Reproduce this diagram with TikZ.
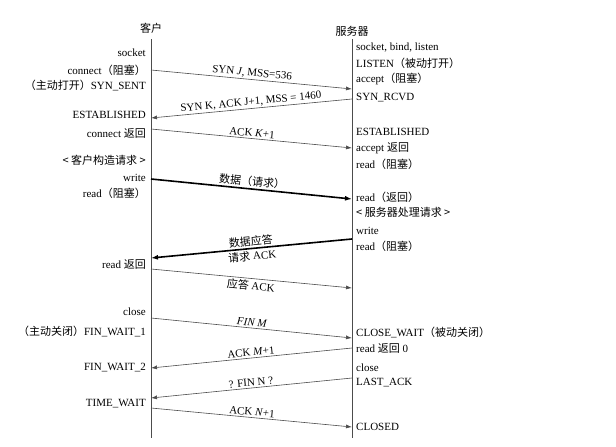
\documentclass[tikz,border=0pt]{standalone}
\usepackage{fontspec}
\setmainfont{Liberation Serif}
\newfontfamily\cjk{Noto Sans CJK SC}
\newcommand{\zh}[1]{{\cjk #1}}
\usetikzlibrary{arrows.meta}
\begin{document}
\begin{tikzpicture}[x=1pt,y=-1pt,font=\fontsize{11}{12}\selectfont,
  lt/.style={anchor=east,inner sep=1pt},
  rt/.style={anchor=west,inner sep=1pt},
  msg/.style={draw=black!70,line width=0.6pt,-{Latex[length=6pt,width=4pt]}},
  bold/.style={draw=black,line width=1.6pt,-{Latex[length=7pt,width=5pt]}},
  lab/.style={sloped,midway,above,inner sep=1.5pt},
  labb/.style={sloped,midway,below,inner sep=1.5pt}]
\useasboundingbox (0,0) rectangle (616,447);
\fill[white] (0,0) rectangle (616,447);
\node (C) at (151,28) {\zh{客户}};
\node (S) at (352,31) {\zh{服务器}};
\coordinate (ct) at (151,39); \coordinate (cb) at (151,438);
\coordinate (st) at (352,39); \coordinate (sb) at (352,438);
\draw[black!70,line width=0.6pt] (ct) -- (cb);
\draw[black!70,line width=0.6pt] (st) -- (sb);
% left texts
\node[lt] (l1) at (147,53) {socket};
\node[lt] (l2) at (147,70) {connect\zh{（阻塞）}};
\node[lt] (l3) at (147,85) {\zh{（主动打开）}SYN\_SENT};
\node[lt] (l4) at (147,115) {ESTABLISHED};
\node[lt] (l5) at (147,133) {connect \zh{返回}};
\node[lt] (l6) at (147,160) {\zh{< 客户构造请求 >}};
\node[lt] (l7) at (147,178) {write};
\node[lt] (l8) at (147,193) {read\zh{（阻塞）}};
\node[lt] (l9) at (147,264) {read \zh{返回}};
\node[lt] (l10) at (147,312) {close};
\node[lt] (l11) at (147,331) {\zh{（主动关闭）}FIN\_WAIT\_1};
\node[lt] (l12) at (147,368) {FIN\_WAIT\_2};
\node[lt] (l13) at (147,404) {TIME\_WAIT};
% right texts
\node[rt] (r1) at (355,48) {socket, bind, listen};
\node[rt] (r2) at (355,63) {LISTEN\zh{（被动打开）}};
\node[rt] (r3) at (355,79) {accept\zh{（阻塞）}};
\node[rt] (r4) at (355,98) {SYN\_RCVD};
\node[rt] (r5) at (355,132) {ESTABLISHED};
\node[rt] (r6) at (355,148) {accept \zh{返回}};
\node[rt] (r7) at (355,164) {read\zh{（阻塞）}};
\node[rt] (r8) at (355,197) {read\zh{（返回）}};
\node[rt] (r9) at (355,212) {\zh{< 服务器处理请求 >}};
\node[rt] (r10) at (355,231) {write};
\node[rt] (r11) at (355,246) {read\zh{（阻塞）}};
\node[rt] (r12) at (355,332) {CLOSE\_WAIT\zh{（被动关闭）}};
\node[rt] (r13) at (355,348) {read \zh{返回} 0};
\node[rt] (r14) at (355,368) {close};
\node[rt] (r15) at (355,383) {LAST\_ACK};
\node[rt] (r16) at (355,427) {CLOSED};
% arrow endpoints
\coordinate (a1) at (151,70);  \coordinate (b1) at (352,89);
\coordinate (a2) at (352,99);  \coordinate (b2) at (151,118);
\coordinate (a3) at (151,129); \coordinate (b3) at (352,148);
\coordinate (a4) at (151,179); \coordinate (b4) at (352,199);
\coordinate (a5) at (352,239); \coordinate (b5) at (151,258);
\coordinate (a6) at (151,269); \coordinate (b6) at (352,288);
\coordinate (a7) at (151,318); \coordinate (b7) at (352,338);
\coordinate (a8) at (352,348); \coordinate (b8) at (151,368);
\coordinate (a9) at (352,378); \coordinate (b9) at (151,398);
\coordinate (a10) at (151,408); \coordinate (b10) at (352,427);
\draw[msg] (a1) -- node[lab] {SYN \textit{J}, MSS=536} (b1);
\draw[msg] (a2) -- node[lab] {SYN K, ACK J+1, MSS = 1460} (b2);
\draw[msg] (a3) -- node[lab] {ACK \textit{K}+1} (b3);
\draw[bold] (a4) -- node[lab] {\zh{数据（请求）}} (b4);
\draw[bold] (a5) -- node[lab] {\zh{数据应答}} node[labb] {\zh{请求} ACK} (b5);
\draw[msg] (a6) -- node[labb] {\zh{应答} ACK} (b6);
\draw[msg] (a7) -- node[lab] {\textit{FIN M}} (b7);
\draw[msg] (a8) -- node[lab] {ACK \textit{M}+1} (b8);
\draw[msg] (a9) -- node[lab] {? FIN N ?} (b9);
\draw[msg] (a10) -- node[lab] {ACK \textit{N}+1} (b10);
\end{tikzpicture}
\end{document}
